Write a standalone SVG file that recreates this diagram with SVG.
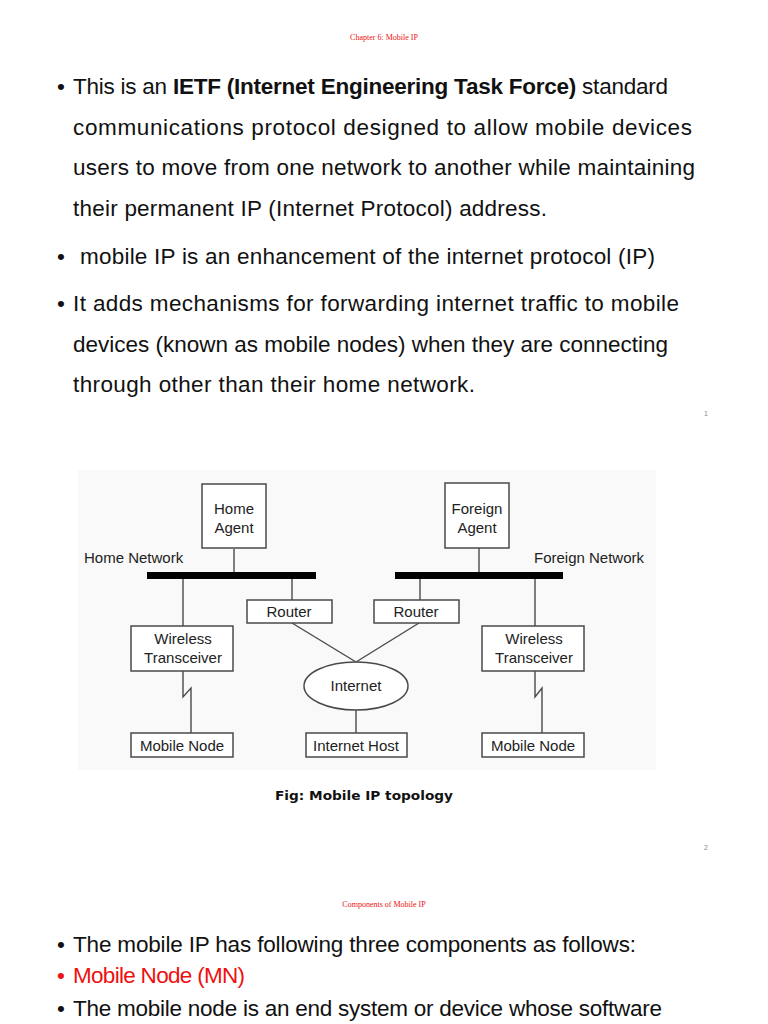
<svg xmlns="http://www.w3.org/2000/svg" width="768" height="1024" viewBox="0 0 768 1024">
<style>
.body{font-family:"Liberation Sans",Arial,sans-serif;font-size:22.5px;fill:#111}
.b{font-weight:bold}
.hdr{font-family:"Liberation Serif",serif;font-size:8px;fill:#ee1111}
.pg{font-family:"Liberation Sans",sans-serif;font-size:7px;fill:#888}
.lbl{font-family:"Liberation Sans",sans-serif;font-size:15px;fill:#222}
.box{fill:#fff;stroke:#4a4a4a;stroke-width:1.5}
.ln{fill:none;stroke:#4a4a4a;stroke-width:1.4}
.bar{fill:#000}
.cap{font-family:"DejaVu Sans","Liberation Sans",sans-serif;font-size:12px;font-weight:bold;fill:#111}
.red{fill:#ee1111}
</style>
<rect width="768" height="1024" fill="#fff"/>
<text class="hdr" x="384" y="40" text-anchor="middle">Chapter 6: Mobile IP</text>

<g id="para1">
<text class="body" x="57" y="94">•</text>
<text class="body" x="73" y="94" textLength="595" lengthAdjust="spacing">This is an <tspan class="b">IETF (Internet Engineering Task Force)</tspan> standard</text>
<text class="body" x="73" y="135" textLength="619" lengthAdjust="spacing">communications protocol designed to allow mobile devices</text>
<text class="body" x="73" y="175" textLength="622" lengthAdjust="spacing">users to move from one network to another while maintaining</text>
<text class="body" x="73" y="216" textLength="474" lengthAdjust="spacing">their permanent IP (Internet Protocol) address.</text>
<text class="body" x="57" y="264">•</text>
<text class="body" x="80" y="264" textLength="575" lengthAdjust="spacing">mobile IP is an enhancement of the internet protocol (IP)</text>
<text class="body" x="57" y="311">•</text>
<text class="body" x="73" y="311" textLength="606" lengthAdjust="spacing">It adds mechanisms for forwarding internet traffic to mobile</text>
<text class="body" x="73" y="352" textLength="595" lengthAdjust="spacing">devices (known as mobile nodes) when they are connecting</text>
<text class="body" x="73" y="392" textLength="402" lengthAdjust="spacing">through other than their home network.</text>
</g>
<text class="pg" x="706" y="416" text-anchor="middle">1</text>

<rect x="78" y="470" width="578" height="300" fill="#f9f9f9"/>

<g id="connectors">
<line class="ln" x1="234" y1="549" x2="234" y2="572"/>
<line class="ln" x1="479" y1="548" x2="479" y2="572"/>
<line class="ln" x1="183" y1="579" x2="183" y2="626"/>
<line class="ln" x1="292" y1="579" x2="292" y2="600"/>
<line class="ln" x1="420" y1="579" x2="420" y2="600"/>
<line class="ln" x1="535" y1="579" x2="535" y2="626"/>
<line class="ln" x1="292" y1="623" x2="356" y2="662"/>
<line class="ln" x1="419" y1="623" x2="356" y2="662"/>
<line class="ln" x1="356" y1="709" x2="356" y2="733"/>
<polyline class="ln" points="183,671 183,697 191,688 191,733"/>
<polyline class="ln" points="535,671 535,697 542,688 542,733"/>
</g>

<g id="home-network">
<rect class="bar" x="147" y="572" width="169" height="7"/>
<text class="lbl" x="84" y="563">Home Network</text>
</g>
<g id="foreign-network">
<rect class="bar" x="395" y="572" width="168" height="7"/>
<text class="lbl" x="534" y="563">Foreign Network</text>
</g>
<g id="home-agent">
<rect class="box" x="202" y="484" width="64" height="64"/>
<text class="lbl" x="234" y="514" text-anchor="middle">Home</text>
<text class="lbl" x="234" y="533" text-anchor="middle">Agent</text>
</g>
<g id="foreign-agent">
<rect class="box" x="445" y="483" width="64" height="65"/>
<text class="lbl" x="477" y="514" text-anchor="middle">Foreign</text>
<text class="lbl" x="477" y="533" text-anchor="middle">Agent</text>
</g>
<g id="router-home">
<rect class="box" x="247" y="600" width="85" height="23"/>
<text class="lbl" x="289" y="617" text-anchor="middle">Router</text>
</g>
<g id="router-foreign">
<rect class="box" x="374" y="600" width="85" height="23"/>
<text class="lbl" x="416" y="617" text-anchor="middle">Router</text>
</g>
<g id="wt-home">
<rect class="box" x="131" y="626" width="102" height="45"/>
<text class="lbl" x="183" y="644" text-anchor="middle">Wireless</text>
<text class="lbl" x="183" y="663" text-anchor="middle">Transceiver</text>
</g>
<g id="wt-foreign">
<rect class="box" x="482" y="626" width="102" height="45"/>
<text class="lbl" x="534" y="644" text-anchor="middle">Wireless</text>
<text class="lbl" x="534" y="663" text-anchor="middle">Transceiver</text>
</g>
<g id="internet">
<ellipse class="box" cx="356" cy="686" rx="52" ry="24"/>
<text class="lbl" x="356" y="691" text-anchor="middle">Internet</text>
</g>
<g id="mn-home">
<rect class="box" x="131" y="733" width="102" height="24"/>
<text class="lbl" x="182" y="751" text-anchor="middle">Mobile Node</text>
</g>
<g id="internet-host">
<rect class="box" x="306" y="733" width="101" height="24"/>
<text class="lbl" x="356" y="751" text-anchor="middle">Internet Host</text>
</g>
<g id="mn-foreign">
<rect class="box" x="482" y="733" width="102" height="24"/>
<text class="lbl" x="533" y="751" text-anchor="middle">Mobile Node</text>
</g>
<text class="cap" x="275" y="800" textLength="178" lengthAdjust="spacingAndGlyphs">Fig: Mobile IP topology</text>

<text class="pg" x="706" y="850" text-anchor="middle">2</text>
<text class="hdr" x="384" y="907" text-anchor="middle">Components of Mobile IP</text>

<g id="para2">
<text class="body" x="57" y="952">•</text>
<text class="body" x="73" y="952" textLength="563" lengthAdjust="spacing">The mobile IP has following three components as follows:</text>
<text class="body red" x="57" y="983">•</text>
<text class="body red" x="73" y="983" textLength="172" lengthAdjust="spacing">Mobile Node (MN)</text>
<text class="body" x="57" y="1016">•</text>
<text class="body" x="73" y="1016" textLength="589" lengthAdjust="spacing">The mobile node is an end system or device whose software</text>
</g>
</svg>
